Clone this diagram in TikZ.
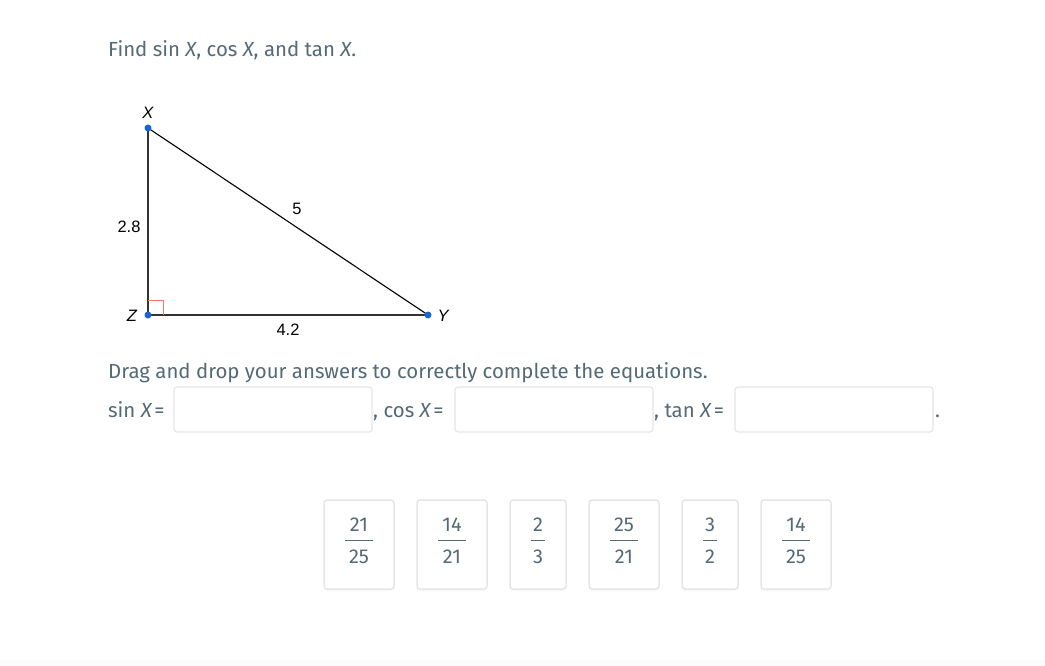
\documentclass[tikz,border=0pt]{standalone}
\usepackage{fontspec}
\setmainfont{Fira Sans}
\newfontfamily\labelfont{Liberation Sans}
\usetikzlibrary{shadows}
\definecolor{textgray}{RGB}{84,106,118}
\definecolor{dotblue}{RGB}{24,102,214}
\definecolor{anglered}{RGB}{240,120,110}
\definecolor{boxgray}{RGB}{230,230,230}
\tikzset{
	prompt/.style={anchor=base west, inner sep=0pt, text=textgray, font=\fontsize{20.4}{23}\selectfont},
	vertex/.style={circle, fill=dotblue, inner sep=0pt, minimum size=7pt},
	sidelabel/.style={inner sep=0pt, font=\labelfont\fontsize{16.5}{18}\selectfont},
	answerbox/.style={draw=boxgray, line width=1.2pt, rounded corners=3pt, fill=white, minimum width=198pt, minimum height=45pt},
	card/.style={draw=boxgray, line width=1.5pt, rounded corners=3pt, fill=white, minimum height=89pt,
		drop shadow={opacity=0.06, shadow xshift=0pt, shadow yshift=-2pt}},
	fracdigit/.style={anchor=base, inner sep=0pt, text=textgray, font=\fontsize{20}{22}\selectfont}
}
\begin{document}
\begin{tikzpicture}[x=1pt, y=-1pt]
		%Page frame
		\useasboundingbox (0,0) rectangle (1045,666);
		\fill[white] (0,0) rectangle (1045,666);
		\fill[gray!3] (0,660) rectangle (1045,666);
		%Question
		\node[prompt] (question) at (108,57) {Find sin \textit{X}, cos \textit{X}, and tan \textit{X}.};
		%Corners of the triangle
		\coordinate (X) at (148,128);
		\coordinate (Z) at (148,315);
		\coordinate (Y) at (428,315);
		%Sides
		\draw[black!80, line width=1.5pt] (Y) -- (Z) -- (X);
		\draw[black, line width=1.1pt] (X) -- (Y);
		%Right angle at Z
		\draw[anglered, line width=0.9pt] (Z) ++(0,-15) -- ++(15,0) -- ++(0,15);
		%Blue points
		\node[vertex] (ptX) at (X) {};
		\node[vertex] (ptY) at (Y) {};
		\node[vertex] (ptZ) at (Z) {};
		%Vertex names
		\node[sidelabel] (labX) at (148,113) {\itshape X};
		\node[sidelabel] (labY) at (443,316) {\itshape Y};
		\node[sidelabel] (labZ) at (132,316) {\itshape Z};
		%Side lengths
		\node[sidelabel] (lenXZ) at (129,227) {2.8};
		\node[sidelabel] (lenXY) at (297,209) {5};
		\node[sidelabel] (lenZY) at (288,330) {4.2};
		%Instruction
		\node[prompt] (instruction) at (108,378) {Drag and drop your answers to correctly complete the equations.};
		%The equations with empty boxes
		\node[prompt] (eqsin) at (108,417) {sin \textit{X}\kern2pt=};
		\node[answerbox] (boxsin) at (273,409.5) {};
		\node[prompt] (eqcos) at (373,417) {, cos \textit{X}\kern2pt=};
		\node[answerbox] (boxcos) at (554,409.5) {};
		\node[prompt] (eqtan) at (654,417) {, tan \textit{X}\kern2pt=};
		\node[answerbox] (boxtan) at (834,409.5) {};
		\node[prompt] (eqend) at (935,417) {.};
		%Answer cards
		\foreach \cx/\w/\hw/\num/\den [count=\i] in {359/70/14/21/25, 452/70/14/14/21, 538/56/7/2/3, 624/70/14/25/21, 710/56/7/3/2, 796/70/14/14/25} {
			\node[card, minimum width=\w pt] (card\i) at (\cx,544.5) {};
			\node[fracdigit] (num\i) at (\cx,531) {\num};
			\node[fracdigit] (den\i) at (\cx,563) {\den};
			\draw[textgray, line width=1pt] (\cx-\hw,540) -- (\cx+\hw,540);
		}
\end{tikzpicture}
\end{document}
